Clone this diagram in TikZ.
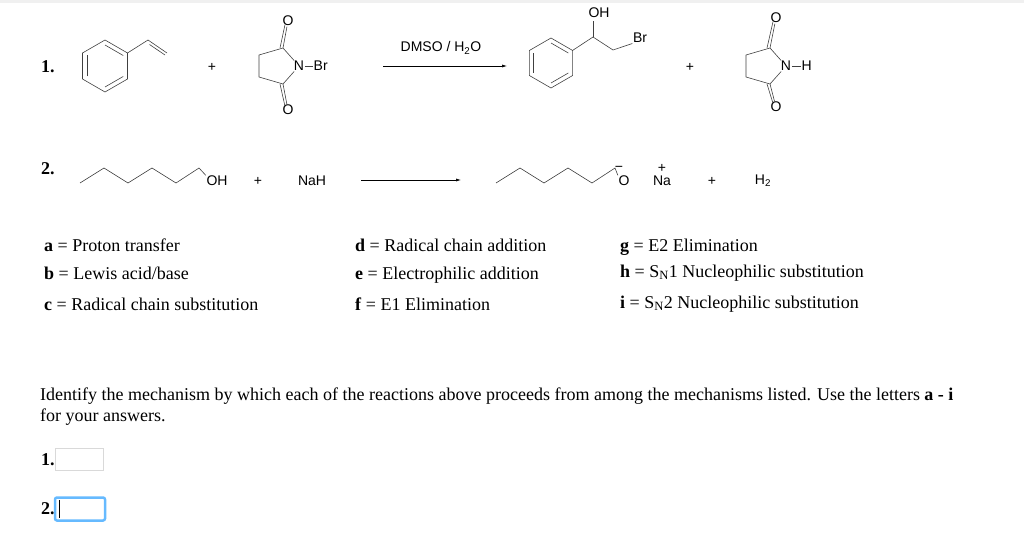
\documentclass[tikz,border=0pt]{standalone}
\usepackage{fontspec}
\setmainfont{Liberation Serif}
\newfontfamily\chemfont{Liberation Sans}
\usetikzlibrary{arrows.meta}
\begin{document}
\begin{tikzpicture}[x=1pt,y=-1pt,
  bond/.style={line width=0.6pt,draw=black!75},
  chem/.style={font=\chemfont\fontsize{14}{15}\selectfont,inner sep=0.5pt},
  txt/.style={font=\fontsize{18}{21}\selectfont,anchor=base west,inner sep=0},
  num/.style={font=\bfseries\fontsize{18}{21}\selectfont,anchor=base west,inner sep=0},
  arr/.style={line width=0.6pt,-{Latex[length=5pt,width=3pt]}}]
\useasboundingbox (0,0) rectangle (1024,548);
\fill[black!6] (0,0) rectangle (1024,3);
% numbers
\node[num] (n1) at (41,73) {1.};
\node[num] (n2) at (41,175) {2.};
% styrene
\begin{scope}[shift={(105,66)}]
\draw[bond] (90:26)--(30:26)--(-30:26)--(-90:26)--(-150:26)--(150:26)--cycle;
\draw[bond] (150:21)--(-150:21); \draw[bond] (-30:21)--(-90:21); \draw[bond] (90:21)--(30:21);
\end{scope}
\coordinate (sv1) at (127.5,53);
\coordinate (sv2) at (148,40);
\coordinate (sv3) at (167,53);
\draw[bond] (sv1)--(sv2)--(sv3);
\draw[bond] (149.5,44.5)--(165,55);
\node[chem] (p1) at (212,67) {+};
% NBS
\coordinate (nc1) at (283,48); \coordinate (nc2) at (283,84);
\coordinate (nc3) at (259,55); \coordinate (nc4) at (259,77);
\node[chem] (nN) at (299,66) {N};
\node[chem,anchor=west] (nBr) at (313,66) {Br};
\node[chem] (nO1) at (288,21) {O};
\node[chem] (nO2) at (288,110) {O};
\draw[bond] (nN)--(nc1)--(nc3)--(nc4)--(nc2)--(nN);
\draw[bond] (nN)--(nBr);
\draw[bond] (nc1)--(nO1); \draw[bond] ([xshift=-3pt]nc1)--([xshift=-3pt,yshift=2pt]nO1.south);
\draw[bond] (nc2)--(nO2); \draw[bond] ([xshift=-3pt]nc2)--([xshift=-3pt,yshift=-2pt]nO2.north);
% arrow 1
\coordinate (a1s) at (383,66); \coordinate (a1e) at (507,66);
\draw[arr] (a1s)--(a1e);
\node[chem] (dmso) at (441,48) {DMSO / H\textsubscript{2}O};
% product
\begin{scope}[shift={(551,63)}]
\draw[bond] (90:25)--(30:25)--(-30:25)--(-90:25)--(-150:25)--(150:25)--cycle;
\draw[bond] (150:20)--(-150:20); \draw[bond] (-30:20)--(-90:20); \draw[bond] (90:20)--(30:20);
\end{scope}
\coordinate (pv1) at (572.5,50.5);
\coordinate (pv2) at (593,37);
\coordinate (pv3) at (613,50);
\node[chem] (pOH) at (599,13) {OH};
\node[chem] (pBr) at (640,38) {Br};
\draw[bond] (pv1)--(pv2)--(pv3)--(pBr.south west);
\draw[bond] (pv2)--(593,21);
\node[chem] (p2) at (690,67) {+};
% succinimide
\coordinate (sc1) at (770,48); \coordinate (sc2) at (770,84);
\coordinate (sc3) at (746,55); \coordinate (sc4) at (746,77);
\node[chem] (sN) at (786,66) {N};
\node[chem,anchor=west] (sH) at (801,66) {H};
\node[chem] (sO1) at (776,18) {O};
\node[chem] (sO2) at (776,107) {O};
\draw[bond] (sN)--(sc1)--(sc3)--(sc4)--(sc2)--(sN);
\draw[bond] (sN)--(sH);
\draw[bond] (sc1)--(sO1); \draw[bond] ([xshift=-3pt]sc1)--([xshift=-3pt,yshift=2pt]sO1.south);
\draw[bond] (sc2)--(sO2); \draw[bond] ([xshift=-3pt]sc2)--([xshift=-3pt,yshift=-2pt]sO2.north);
% reaction 2
\node[chem] (hOH) at (217,181) {OH};
\draw[bond] (80,183)--(104,168)--(128,183)--(152,168)--(176,183)--(199,168)--(hOH.north west);
\node[chem] (p3) at (258,181) {+};
\node[chem] (nah) at (312,181) {NaH};
\coordinate (a2s) at (361,180); \coordinate (a2e) at (461,180);
\draw[arr] (a2s)--(a2e);
\node[chem] (pO) at (624,181) {O};
\node[chem] at (619,169) {\textminus};
\draw[bond] (496,183)--(520,168)--(544,183)--(568,168)--(592,183)--(615,168)--(pO.north west);
\node[chem] (na) at (662,181) {Na};
\node[chem] at (662,168) {+};
\node[chem] (p4) at (712,181) {+};
\node[chem] (h2) at (763,181) {H\textsubscript{2}};
% mechanisms
\node[txt] (ma) at (44,251) {\textbf{a} = Proton transfer};
\node[txt] (mb) at (44,279) {\textbf{b} = Lewis acid/base};
\node[txt] (mc) at (44,310) {\textbf{c} = Radical chain substitution};
\node[txt] (md) at (355,251) {\textbf{d} = Radical chain addition};
\node[txt] (me) at (355,279) {\textbf{e} = Electrophilic addition};
\node[txt] (mf) at (355,310) {\textbf{f} = E1 Elimination};
\node[txt] (mg) at (620,251) {\textbf{g} = E2 Elimination};
\node[txt] (mh) at (620,277) {\textbf{h} = S\textsubscript{N}1 Nucleophilic substitution};
\node[txt] (mi) at (620,308) {\textbf{i} = S\textsubscript{N}2 Nucleophilic substitution};
% question
\node[txt] (q1) at (40,400) {Identify the mechanism by which each of the reactions above proceeds from among the mechanisms listed. Use the letters \textbf{a - i}};
\node[txt] (q2) at (40,421) {for your answers.};
\node[num] (b1) at (41,465) {1.};
\node[draw=black!15,line width=0.6pt,minimum width=48pt,minimum height=22pt,inner sep=0] (box1) at (79,459) {};
\node[num] (b2) at (41,514) {2.};
\node[draw=blue!45!cyan!60,line width=2.5pt,rounded corners=2pt,minimum width=50pt,minimum height=23pt,inner sep=0] (box2) at (80,509) {};
\draw[line width=0.8pt] (59,500)--(59,518);
\end{tikzpicture}
\end{document}
